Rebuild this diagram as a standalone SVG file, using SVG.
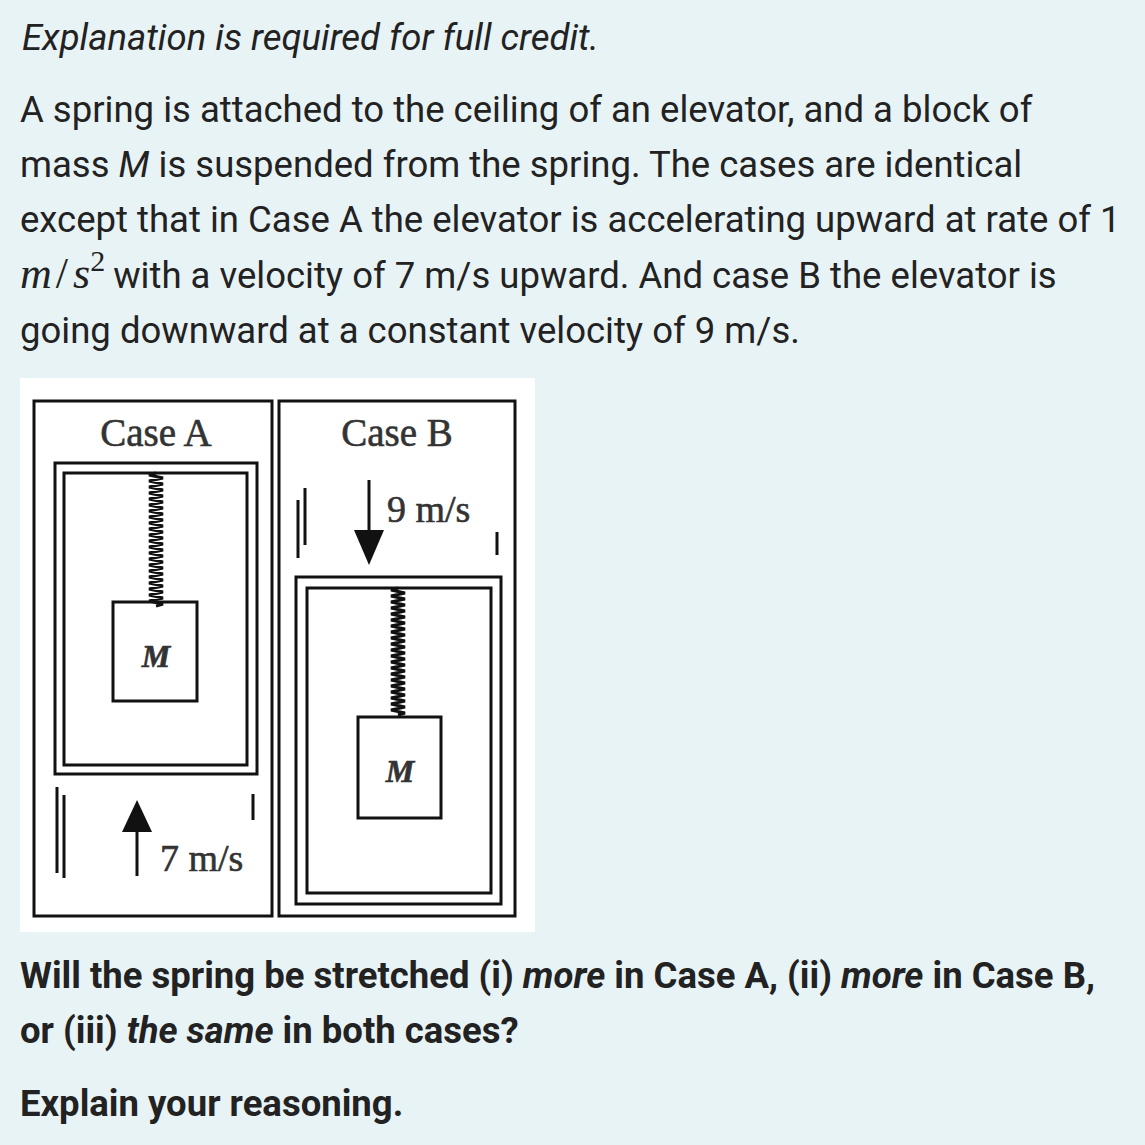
<svg xmlns="http://www.w3.org/2000/svg" width="1145" height="1145" viewBox="0 0 1145 1145">
<style>
.t{font-family:Roboto,"Liberation Sans",sans-serif;font-size:36.5px;fill:#222}
.b{font-weight:bold}
.i{font-style:italic}
.s{font-family:"Liberation Serif",serif;fill:#333;stroke:#333;stroke-width:0.6}
.k{fill:none;stroke:#111;stroke-width:3}
.k2{fill:none;stroke:#111;stroke-width:3.2}
</style>
<rect width="1145" height="1145" fill="#e8f3f6"/>
<text class="t i" x="22" y="50" font-size="38">Explanation is required for full credit.</text>
<text class="t" x="20" y="122">A spring is attached to the ceiling of an elevator, and a block of</text>
<text class="t" x="20" y="177">mass <tspan class="i">M</tspan> is suspended from the spring. The cases are identical</text>
<text class="t" x="20" y="232">except that in Case A the elevator is accelerating upward at rate of 1</text>
<text class="t" x="20" y="288"><tspan font-family="Liberation Serif,serif" font-style="italic" font-size="44">m</tspan><tspan font-family="Liberation Serif,serif" font-size="44" dx="4">/</tspan><tspan font-family="Liberation Serif,serif" font-style="italic" font-size="44" dx="5">s</tspan><tspan font-family="Liberation Serif,serif" font-size="30" dy="-17">2</tspan><tspan dy="17" dx="8">with a velocity of 7 m/s upward. And case B the elevator is</tspan></text>
<text class="t" x="20" y="343">going downward at a constant velocity of 9 m/s.</text>
<g id="figure">
<rect x="20" y="378" width="515" height="554" fill="#fff"/>
<g id="caseA">
<rect class="k" x="34" y="401" width="238" height="515"/>
<text class="s" x="156" y="446" font-size="39" text-anchor="middle">Case A</text>
<rect class="k" x="55" y="463" width="202" height="311"/>
<rect class="k" x="64" y="473" width="183" height="292"/>
<path class="k2" d="M156,473 l-7,2 l14,3 l-14,3 l14,3 l-14,3 l14,3 l-14,3 l14,3 l-14,3 l14,3 l-14,3 l14,3 l-14,3 l14,3 l-14,3 l14,3 l-14,3 l14,3 l-14,3 l14,3 l-14,3 l14,3 l-14,3 l14,3 l-14,3 l14,3 l-14,3 l14,3 l-14,3 l14,3 l-14,3 l14,3 l-14,3 l14,3 l-14,3 l14,3 l-14,3 l14,3 l-14,3 l14,3 l-14,3 l14,3 l-14,3 l14,3 l-7,2"/>
<rect class="k" x="113" y="602" width="84" height="99"/>
<text class="s i b" x="156" y="667" font-size="32" text-anchor="middle">M</text>
<path class="k" d="M57,787 V873 M64,795 V878 M253,794 V820"/>
<path class="k" d="M137,876 V830"/>
<polygon points="137,800 122,832 152,832" fill="#111"/>
<text class="s" x="160" y="871" font-size="38">7 m/s</text>
</g>
<g id="caseB">
<rect class="k" x="279" y="401" width="236" height="515"/>
<text class="s" x="397" y="446" font-size="39" text-anchor="middle">Case B</text>
<rect class="k" x="296" y="577" width="205" height="327"/>
<rect class="k" x="307" y="588" width="184" height="305"/>
<path class="k2" d="M398,588 l-7,2 l14,3 l-14,3 l14,3 l-14,3 l14,3 l-14,3 l14,3 l-14,3 l14,3 l-14,3 l14,3 l-14,3 l14,3 l-14,3 l14,3 l-14,3 l14,3 l-14,3 l14,3 l-14,3 l14,3 l-14,3 l14,3 l-14,3 l14,3 l-14,3 l14,3 l-14,3 l14,3 l-14,3 l14,3 l-14,3 l14,3 l-14,3 l14,3 l-14,3 l14,3 l-14,3 l14,3 l-14,3 l14,3 l-7,2"/>
<rect class="k" x="358" y="717" width="83" height="101"/>
<text class="s i b" x="400" y="782" font-size="32" text-anchor="middle">M</text>
<path class="k" d="M298,500 V558 M305,488 V545 M497,532 V555"/>
<path class="k" d="M369,480 V530"/>
<polygon points="369,565 354,530 384,530" fill="#111"/>
<text class="s" x="387" y="522" font-size="38">9 m/s</text>
</g>
</g>
<text class="t b" x="20" y="988">Will the spring be stretched (i) <tspan class="i">more</tspan> in Case A, (ii) <tspan class="i">more</tspan> in Case B,</text>
<text class="t b" x="20" y="1043">or (iii) <tspan class="i">the same</tspan> in both cases?</text>
<text class="t b" x="20" y="1116">Explain your reasoning.</text>
</svg>
